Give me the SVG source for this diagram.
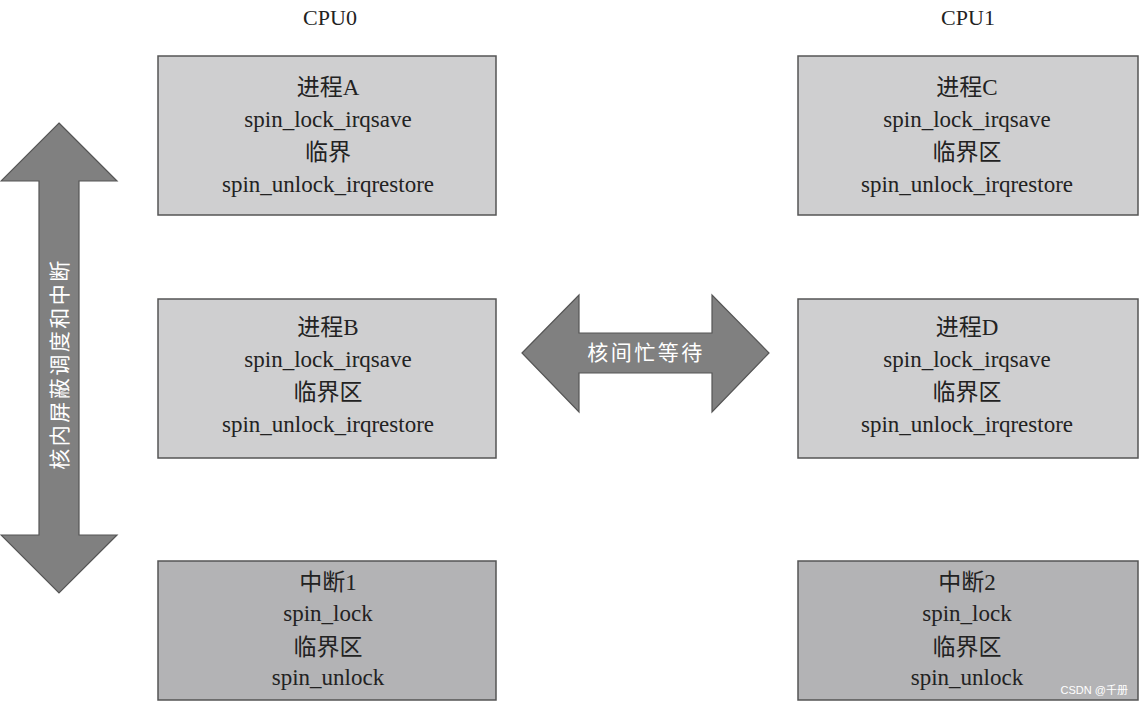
<svg xmlns="http://www.w3.org/2000/svg" width="1145" height="705" viewBox="0 0 1145 705">
<style>
.bg{fill:#ffffff}
.proc{fill:#cfcfd0;stroke:#555555;stroke-width:1.5}
.irq{fill:#b3b3b5;stroke:#555555;stroke-width:1.5}
.t{font-family:"Liberation Serif","Noto Sans CJK SC",serif;font-size:23px;fill:#222222;text-anchor:middle}
.cpu{font-family:"Liberation Serif","Noto Sans CJK SC",serif;font-size:22px;fill:#222222;text-anchor:middle}
.arr{fill:#808080;stroke:#555555;stroke-width:1.2}
.at{font-family:"Noto Sans CJK SC","Noto Sans",sans-serif;font-size:21px;fill:#ffffff;text-anchor:middle;letter-spacing:2.5px}
.wm{font-family:"Liberation Sans","Noto Sans CJK SC",sans-serif;font-size:11px;fill:#ffffff;text-anchor:end}
</style>
<rect class="bg" x="0" y="0" width="1145" height="705"/>
<text class="cpu" x="330" y="25">CPU0</text>
<text class="cpu" x="968" y="25">CPU1</text>
<g id="procA">
<rect class="proc" x="158" y="56" width="338" height="159"/>
<text class="t" x="328" y="95">进程A</text>
<text class="t" x="328" y="127">spin_lock_irqsave</text>
<text class="t" x="328" y="160">临界</text>
<text class="t" x="328" y="192">spin_unlock_irqrestore</text>
</g>
<g id="procB">
<rect class="proc" x="158" y="299" width="338" height="159"/>
<text class="t" x="328" y="335">进程B</text>
<text class="t" x="328" y="367">spin_lock_irqsave</text>
<text class="t" x="328" y="400">临界区</text>
<text class="t" x="328" y="432">spin_unlock_irqrestore</text>
</g>
<g id="irq1">
<rect class="irq" x="158" y="561" width="338" height="139"/>
<text class="t" x="328" y="590">中断1</text>
<text class="t" x="328" y="621">spin_lock</text>
<text class="t" x="328" y="655">临界区</text>
<text class="t" x="328" y="685">spin_unlock</text>
</g>
<g id="procC">
<rect class="proc" x="798" y="56" width="340" height="159"/>
<text class="t" x="967" y="95">进程C</text>
<text class="t" x="967" y="127">spin_lock_irqsave</text>
<text class="t" x="967" y="160">临界区</text>
<text class="t" x="967" y="192">spin_unlock_irqrestore</text>
</g>
<g id="procD">
<rect class="proc" x="798" y="299" width="340" height="159"/>
<text class="t" x="967" y="335">进程D</text>
<text class="t" x="967" y="367">spin_lock_irqsave</text>
<text class="t" x="967" y="400">临界区</text>
<text class="t" x="967" y="432">spin_unlock_irqrestore</text>
</g>
<g id="irq2">
<rect class="irq" x="798" y="561" width="340" height="139"/>
<text class="t" x="967" y="590">中断2</text>
<text class="t" x="967" y="621">spin_lock</text>
<text class="t" x="967" y="655">临界区</text>
<text class="t" x="967" y="685">spin_unlock</text>
<text class="wm" x="1128" y="694">CSDN @千册</text>
</g>
<g id="connectors">
<g id="vArrow">
<polygon class="arr" points="59,123 117,181 79,181 79,535 117,535 59,593 1,535 39,535 39,181 1,181"/>
<text class="at" transform="translate(67,364) rotate(-90)">核内屏蔽调度和中断</text>
</g>
<g id="hArrow">
<polygon class="arr" points="522,353 579,295 579,333 712,333 712,295 769,353 712,412 712,373 579,373 579,412"/>
<text class="at" x="646" y="360">核间忙等待</text>
</g>
</g>
</svg>
